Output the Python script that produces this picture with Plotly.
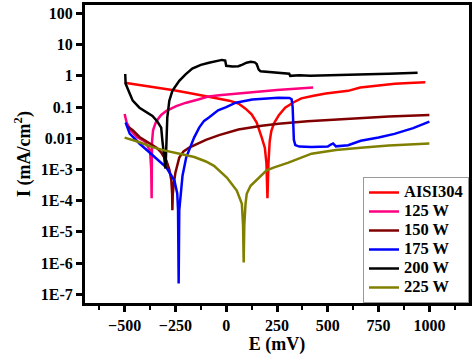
import plotly.graph_objects as go

# Potential (mV) and current density (mA/cm^2)
E_304 = [-500, -420, -330, -250, -170, -100, -35, 15, 60, 95, 125, 150, 175, 190, 198, 203, 208, 214, 222, 235, 260, 290, 330, 370, 430, 490, 600, 660, 750, 830, 900, 980]
I_304 = [0.60, 0.50, 0.42, 0.34, 0.27, 0.22, 0.19, 0.16, 0.13, 0.089, 0.058, 0.032, 0.0105, 0.005, 0.0016, 1.2e-4, 0.0016, 0.0079, 0.017, 0.03, 0.056, 0.095, 0.14, 0.19, 0.23, 0.27, 0.33, 0.42, 0.49, 0.56, 0.59, 0.62]

E_125 = [-500, -490, -470, -440, -400, -375, -369, -367, -366, -365, -360, -350, -343, -320, -294, -246, -197, -133, -85, -35, 62, 128, 250, 350, 428]
I_125 = [0.060, 0.032, 0.018, 0.011, 0.0079, 0.004, 0.001, 1.2e-4, 0.0016, 0.0079, 0.018, 0.028, 0.036, 0.056, 0.076, 0.107, 0.138, 0.178, 0.219, 0.24, 0.28, 0.30, 0.35, 0.38, 0.42]

E_150 = [-490, -460, -427, -390, -343, -320, -294, -280, -270, -266, -265, -263, -258, -250, -231, -210, -182, -133, -100, -35, 60, 175, 257, 400, 550, 662, 800, 1000]
I_150 = [0.025, 0.018, 0.011, 0.0079, 0.005, 0.0035, 0.0019, 0.001, 4.4e-4, 1.6e-4, 4.9e-5, 1.6e-4, 3.5e-4, 7.9e-4, 0.0024, 0.0038, 0.005, 0.0072, 0.0089, 0.0126, 0.019, 0.025, 0.029, 0.035, 0.04, 0.046, 0.05, 0.056]

E_175 = [-495, -485, -475, -427, -363, -294, -255, -241, -237, -234, -231, -225, -215, -197, -158, -133, -109, -85, -40, 0, 47, 128, 257, 311, 322, 327, 330, 333, 340, 360, 420, 500, 515, 526, 540, 600, 662, 750, 828, 920, 1000]
I_175 = [0.032, 0.02, 0.014, 0.0068, 0.0028, 0.00115, 4.4e-4, 1.7e-4, 5e-5, 2.2e-7, 5e-5, 1.7e-4, 6.3e-4, 0.0024, 0.0105, 0.022, 0.036, 0.046, 0.079, 0.1, 0.138, 0.174, 0.2, 0.195, 0.178, 0.1, 0.025, 0.0089, 0.006, 0.0054, 0.0052, 0.0054, 0.0063, 0.0068, 0.0055, 0.006, 0.0083, 0.0105, 0.0138, 0.021, 0.034]

E_200 = [-497, -495, -475, -460, -427, -395, -363, -340, -320, -314, -304, -299, -296, -294, -290, -280, -265, -231, -200, -167, -125, -85, -50, -21, -5, 0, 30, 60, 80, 100, 121, 140, 150, 160, 169, 200, 240, 290, 310, 315, 360, 414, 500, 600, 700, 800, 942]
I_200 = [1.15, 0.56, 0.27, 0.16, 0.095, 0.071, 0.052, 0.035, 0.022, 0.0083, 0.0025, 0.00107, 0.0032, 0.014, 0.046, 0.16, 0.33, 0.69, 1.12, 1.7, 2.24, 2.63, 2.95, 3.24, 3.1, 2.1, 2.0, 2.04, 2.3, 2.63, 2.82, 2.7, 2.4, 1.58, 1.41, 1.35, 1.26, 1.17, 1.17, 1.0, 1.05, 1.0, 1.05, 1.1, 1.12, 1.17, 1.26]

E_225 = [-500, -430, -363, -300, -230, -157, -100, -60, 3, 52, 77, 83, 86, 89, 95, 101, 120, 145, 199, 233, 306, 420, 540, 662, 800, 1000]
I_225 = [0.0105, 0.0076, 0.0052, 0.004, 0.0032, 0.0025, 0.0018, 0.0013, 5.5e-4, 2.1e-4, 7.9e-5, 1.6e-5, 1.05e-6, 1.6e-5, 7.9e-5, 1.66e-4, 3e-4, 4.4e-4, 9.3e-4, 0.00115, 0.00166, 0.0032, 0.0042, 0.005, 0.0058, 0.0068]

series_names = ["AISI304", "125 W", "150 W", "175 W", "200 W", "225 W"]
series_E = [E_304, E_125, E_150, E_175, E_200, E_225]
series_I = [I_304, I_125, I_150, I_175, I_200, I_225]
series_colors = ["#ff0000", "#ff0080", "#800000", "#0000ff", "#000000", "#808000"]

y_tickvals = [1e-7, 1e-6, 1e-5, 1e-4, 1e-3, 0.01, 0.1, 1, 10, 100]
y_ticktext = ["1E-7", "1E-6", "1E-5", "1E-4", "1E-3", "0.01", "0.1", "1", "10", "100"]
x_tickvals = [-500, -250, 0, 250, 500, 750, 1000]

FONT = "Liberation Serif"

fig = go.Figure()
for name, ex, iy, col in zip(series_names, series_E, series_I, series_colors):
    fig.add_trace(go.Scatter(x=ex, y=iy, mode="lines",
                             name='<span style="font-size:16.5px">' + name + '</span>',
                             line=dict(color=col, width=2.5)))

fig.update_layout(
    width=474, height=355,
    margin=dict(l=85, r=2, t=4, b=52),
    paper_bgcolor="white", plot_bgcolor="white",
    font=dict(family=FONT, size=16, color="black", weight="bold"),
    showlegend=True,
    legend=dict(x=1, xanchor="right", y=0, yanchor="bottom",
                bgcolor="white", bordercolor="#999999", borderwidth=1,
                font=dict(family=FONT, size=12, color="black", weight="bold"),
                itemwidth=30, tracegroupgap=0),
)
fig.update_xaxes(
    range=[-695, 1195], showgrid=False, zeroline=False,
    showline=True, linewidth=3, linecolor="black", mirror=True,
    ticks="outside", ticklen=6, tickwidth=2.5, tickcolor="black",
    tickmode="array", tickvals=x_tickvals,
    minor=dict(ticks="outside", ticklen=4, tickwidth=2, tickcolor="black", dtick=125, tick0=0, showgrid=False),
    tickfont=dict(family=FONT, size=16, color="black", weight="bold"),
    title=dict(text="E (mV)", font=dict(family=FONT, size=18, color="black", weight="bold"), standoff=4),
)
fig.update_yaxes(
    type="log", range=[-7.28, 2.27], showgrid=False, zeroline=False,
    showline=True, linewidth=3, linecolor="black", mirror=True,
    ticks="outside", ticklen=6, tickwidth=2.5, tickcolor="black",
    tickmode="array", tickvals=y_tickvals, ticktext=y_ticktext,
    tickfont=dict(family=FONT, size=16, color="black", weight="bold"),
    title=dict(text="I (mA/cm<sup>2</sup>)", font=dict(family=FONT, size=18, color="black", weight="bold"), standoff=6),
)

fig.write_html("out.html", config={"displayModeBar": False},
               post_script="document.body.style.margin='0';document.body.style.padding='0';")
